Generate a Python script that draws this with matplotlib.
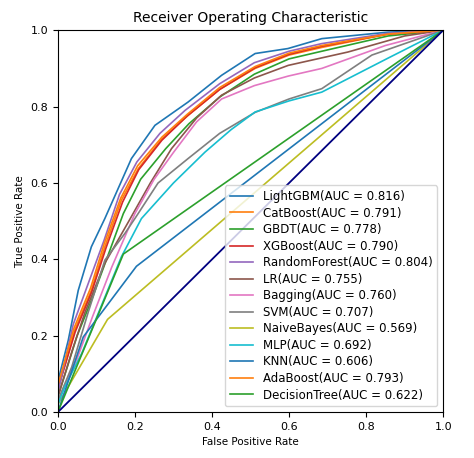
import matplotlib
matplotlib.use('Agg')
from matplotlib import pyplot as plt

## Data ----------------------------------------------------------------------
names = ['LightGBM', 'CatBoost', 'GBDT', 'XGBoost', 'RandomForest', 'LR', 'Bagging',
         'SVM', 'NaiveBayes', 'MLP', 'KNN', 'AdaBoost', 'DecisionTree']
aucs = [0.816, 0.791, 0.778, 0.790, 0.804, 0.755, 0.760, 0.707, 0.569, 0.692, 0.606, 0.793, 0.622]

fpr_lgbm = [0, 0, 0.027, 0.053, 0.087, 0.122, 0.191, 0.252, 0.338, 0.425, 0.512, 0.597, 0.685, 0.857, 1]
tpr_lgbm = [0, 0.08, 0.188, 0.319, 0.433, 0.507, 0.664, 0.751, 0.812, 0.882, 0.939, 0.952, 0.978, 0.995, 1]

fpr_cat = [0, 0, 0.044, 0.087, 0.122, 0.165, 0.209, 0.27, 0.338, 0.42, 0.512, 0.6, 0.685, 0.857, 1]
tpr_cat = [0, 0.06, 0.215, 0.319, 0.433, 0.555, 0.638, 0.715, 0.777, 0.845, 0.9, 0.935, 0.955, 0.99, 1]

fpr_gbdt = [0, 0, 0.05, 0.09, 0.13, 0.17, 0.215, 0.28, 0.34, 0.42, 0.51, 0.6, 0.685, 0.857, 1]
tpr_gbdt = [0, 0.04, 0.2, 0.3, 0.41, 0.52, 0.61, 0.69, 0.755, 0.825, 0.885, 0.925, 0.945, 0.985, 1]

fpr_xgb = [0, 0, 0.045, 0.088, 0.125, 0.168, 0.21, 0.27, 0.335, 0.42, 0.512, 0.6, 0.685, 0.857, 1]
tpr_xgb = [0, 0.06, 0.21, 0.315, 0.43, 0.55, 0.635, 0.712, 0.775, 0.845, 0.902, 0.937, 0.958, 0.99, 1]

fpr_rf = [0, 0, 0.04, 0.08, 0.12, 0.16, 0.205, 0.265, 0.33, 0.42, 0.51, 0.6, 0.685, 0.857, 1]
tpr_rf = [0, 0.05, 0.23, 0.34, 0.45, 0.57, 0.655, 0.73, 0.79, 0.86, 0.915, 0.945, 0.965, 0.992, 1]

fpr_lr = [0, 0, 0.04, 0.07, 0.122, 0.183, 0.24, 0.295, 0.36, 0.425, 0.51, 0.598, 0.753, 0.9, 1]
tpr_lr = [0, 0.04, 0.17, 0.26, 0.39, 0.498, 0.6, 0.69, 0.77, 0.83, 0.875, 0.908, 0.943, 0.985, 1]

fpr_bag = [0, 0, 0.05, 0.09, 0.14, 0.2, 0.25, 0.3, 0.36, 0.425, 0.51, 0.598, 0.685, 0.85, 1]
tpr_bag = [0, 0.03, 0.14, 0.25, 0.38, 0.52, 0.61, 0.68, 0.76, 0.82, 0.855, 0.88, 0.9, 0.96, 1]

fpr_svm = [0, 0, 0.036, 0.078, 0.122, 0.174, 0.2, 0.26, 0.338, 0.42, 0.512, 0.6, 0.685, 0.815, 1]
tpr_svm = [0, 0.03, 0.118, 0.259, 0.398, 0.468, 0.507, 0.6, 0.664, 0.73, 0.785, 0.82, 0.847, 0.935, 1]

fpr_nb = [0, 0, 0.129, 1]
tpr_nb = [0, 0.02, 0.243, 1]

fpr_mlp = [0, 0, 0.018, 0.062, 0.105, 0.165, 0.217, 0.3, 0.382, 0.45, 0.512, 0.6, 0.685, 0.857, 1]
tpr_mlp = [0, 0.02, 0.066, 0.154, 0.259, 0.407, 0.507, 0.6, 0.681, 0.74, 0.786, 0.815, 0.838, 0.927, 1]

fpr_knn = [0, 0.066, 0.204, 1]
tpr_knn = [0, 0.197, 0.382, 1]

fpr_ada = [0, 0, 0.042, 0.085, 0.12, 0.163, 0.207, 0.27, 0.336, 0.42, 0.512, 0.6, 0.685, 0.857, 1]
tpr_ada = [0, 0.07, 0.22, 0.325, 0.44, 0.56, 0.645, 0.72, 0.78, 0.85, 0.905, 0.94, 0.96, 0.99, 1]

fpr_dt = [0, 0.17, 1]
tpr_dt = [0, 0.414, 1]

curves = [(fpr_lgbm, tpr_lgbm), (fpr_cat, tpr_cat), (fpr_gbdt, tpr_gbdt), (fpr_xgb, tpr_xgb),
          (fpr_rf, tpr_rf), (fpr_lr, tpr_lr), (fpr_bag, tpr_bag), (fpr_svm, tpr_svm),
          (fpr_nb, tpr_nb), (fpr_mlp, tpr_mlp), (fpr_knn, tpr_knn), (fpr_ada, tpr_ada),
          (fpr_dt, tpr_dt)]

## Plot ------------------------------------------------------------------------
fig = plt.figure(figsize=(4.74, 4.58), dpi=100)
ax = fig.add_axes([0.122, 0.1, 0.813, 0.834])

for name, auc, (f, t) in zip(names, aucs, curves):
    ax.plot(f, t, lw=1.2, label=f'{name}(AUC = {auc:.3f})')

ax.plot([0, 1], [0, 1], color='navy', lw=1.3)
ax.set_xlim(0, 1)
ax.set_ylim(0, 1)
ax.set_title('Receiver Operating Characteristic', fontsize=10)
ax.set_xlabel('False Positive Rate', fontsize=7.5)
ax.set_ylabel('True Positive Rate', fontsize=7.5)
ax.tick_params(labelsize=8)
ax.legend(loc='lower right', fontsize=8.5, handlelength=2, labelspacing=0.3)

plt.savefig('out.png')
